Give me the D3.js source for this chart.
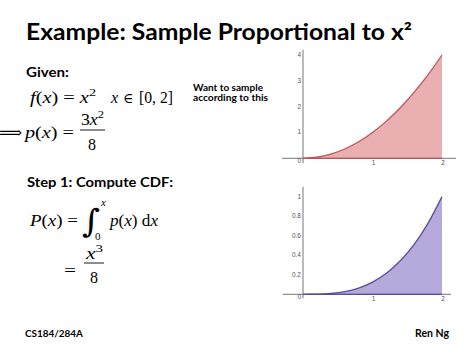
<!DOCTYPE html>
<html><head><meta charset="utf-8">
<script src="https://cdn.jsdelivr.net/npm/d3@7"></script>
<style>
html,body{margin:0;padding:0;background:#fff;}
svg{display:block;}
.sans{font-family:Lato,"Open Sans",sans-serif;font-weight:bold;fill:#000;}
.math{font-family:"Liberation Serif","DejaVu Serif",serif;fill:#000;}
.it{font-style:italic;}
.tick{font-family:"Liberation Sans",Arial,sans-serif;font-size:6.5px;fill:#555;}
</style></head>
<body>
<script>
// Data
const xs = [0, 0.2, 0.4, 0.6, 0.8, 1.0, 1.2, 1.4, 1.6, 1.8, 2.0];
const pdfVals = [0, 0.04, 0.16, 0.36, 0.64, 1.0, 1.44, 1.96, 2.56, 3.24, 4.0];
const cdfVals = [0, 0.001, 0.008, 0.027, 0.064, 0.125, 0.216, 0.343, 0.512, 0.729, 1.0];
const xTicks = [1, 2];
const pdfYTicks = [1, 2, 3, 4];
const cdfYTicks = [0.2, 0.4, 0.6, 0.8, 1];

const W = 474, H = 355;
const svg = d3.select("body").append("svg").attr("width", W).attr("height", H);
svg.append("rect").attr("width", W).attr("height", H).attr("fill", "#fff");

// Title
svg.append("text").attr("class","sans").attr("x",26).attr("y",40)
  .attr("font-size",22).attr("font-weight",900).attr("textLength",386).attr("lengthAdjust","spacingAndGlyphs")
  .text("Example: Sample Proportional to x²");

svg.append("text").attr("class","sans").attr("x",26).attr("y",77).attr("font-size",14)
  .attr("textLength",43).attr("lengthAdjust","spacingAndGlyphs").text("Given:");

function mathText(x, y, size, len, parts, anchor) {
  const t = svg.append("text").attr("class","math").attr("x",x).attr("y",y).attr("font-size",size);
  if (len) t.attr("textLength",len).attr("lengthAdjust","spacingAndGlyphs");
  if (anchor) t.attr("text-anchor",anchor);
  parts.forEach(p => {
    const s = t.append("tspan").text(p.t);
    if (p.i) s.attr("font-style","italic");
    if (p.sup) s.attr("font-size",size*0.7).attr("dy",-size*0.42);
  });
  return t;
}

// f(x) = x^2
mathText(30,103,16,66,[{t:"f",i:1},{t:"("},{t:"x",i:1},{t:") = "},{t:"x",i:1},{t:"2",sup:1}]);
mathText(111,103,16,null,[{t:"x",i:1}]);
svg.append("text").attr("font-family","DejaVu Serif,serif").attr("x",123).attr("y",103).attr("font-size",14).text("∈");
svg.append("text").attr("class","math").attr("x",139).attr("y",103).attr("font-size",17)
  .attr("textLength",34).attr("lengthAdjust","spacingAndGlyphs").text("[0, 2]");

svg.append("text").attr("class","sans").attr("x",193).attr("y",91).attr("font-size",9.5)
  .attr("textLength",70).attr("lengthAdjust","spacingAndGlyphs").text("Want to sample");
svg.append("text").attr("class","sans").attr("x",193).attr("y",101).attr("font-size",9.5)
  .attr("textLength",75).attr("lengthAdjust","spacingAndGlyphs").text("according to this");

// => p(x) = 3x^2/8
svg.append("text").attr("font-family","DejaVu Serif,serif").attr("x",-1).attr("y",138).attr("font-size",16)
  .attr("textLength",23).attr("lengthAdjust","spacingAndGlyphs").text("⟹");
mathText(25,138,16,49,[{t:"p",i:1},{t:"("},{t:"x",i:1},{t:") ="}]);
mathText(81,125,16,23,[{t:"3"},{t:"x",i:1},{t:"2",sup:1}]);
svg.append("line").attr("x1",80).attr("x2",105).attr("y1",130).attr("y2",130).attr("stroke","#000").attr("stroke-width",0.9);
svg.append("text").attr("class","math").attr("x",92).attr("y",150).attr("font-size",16).attr("text-anchor","middle").text("8");

// Step 1
svg.append("text").attr("class","sans").attr("x",27).attr("y",187).attr("font-size",14)
  .attr("textLength",146).attr("lengthAdjust","spacingAndGlyphs").text("Step 1: Compute CDF:");

mathText(30,226,16,48,[{t:"P",i:1},{t:"("},{t:"x",i:1},{t:") ="}]);
svg.append("text").attr("font-family","DejaVu Serif,serif").attr("x",82).attr("y",232).attr("font-size",32)
  .attr("font-style","italic").attr("textLength",18).attr("lengthAdjust","spacingAndGlyphs").text("∫");
svg.append("text").attr("class","math").attr("font-style","italic").attr("x",101).attr("y",206).attr("font-size",11).text("x");
svg.append("text").attr("class","math").attr("x",95).attr("y",240).attr("font-size",11).text("0");
mathText(110,226,16,48,[{t:"p",i:1},{t:"("},{t:"x",i:1},{t:") d"},{t:"x",i:1}]);

svg.append("text").attr("class","math").attr("x",64).attr("y",276).attr("font-size",16)
  .attr("textLength",12).attr("lengthAdjust","spacingAndGlyphs").text("=");
mathText(86,259,16,17,[{t:"x",i:1},{t:"3",sup:1}]);
svg.append("line").attr("x1",84).attr("x2",104).attr("y1",263).attr("y2",263).attr("stroke","#000").attr("stroke-width",0.9);
svg.append("text").attr("class","math").attr("x",94).attr("y",283).attr("font-size",16).attr("text-anchor","middle").text("8");

// Footer
svg.append("text").attr("class","sans").attr("x",25).attr("y",337).attr("font-size",10)
  .attr("textLength",58).attr("lengthAdjust","spacingAndGlyphs").text("CS184/284A");
svg.append("text").attr("class","sans").attr("x",449).attr("y",337).attr("font-size",10.5).attr("text-anchor","end")
  .text("Ren Ng");

// Charts
function chart(vals, yTop, yBottomPx, yTopPx, yTicks, fill, stroke, xAxisMin, xAxisMax, yAxisMin, yAxisMax) {
  const x = d3.scaleLinear().domain([0, 2]).range([303, 442]);
  const y = d3.scaleLinear().domain([0, yTop]).range([yBottomPx, yTopPx]);
  const g = svg.append("g");
  const pts = xs.map((v, i) => [v, vals[i]]);
  g.append("path").datum(pts)
    .attr("d", d3.area().x(d => x(d[0])).y0(y(0)).y1(d => y(d[1])).curve(d3.curveMonotoneX))
    .attr("fill", fill);
  g.append("line").attr("x1", x(xAxisMin)).attr("x2", x(xAxisMax)).attr("y1", y(0)).attr("y2", y(0))
    .attr("stroke", "#777").attr("stroke-width", 1);
  g.append("line").attr("x1", x(0)).attr("x2", x(0)).attr("y1", y(yAxisMin)).attr("y2", y(yAxisMax))
    .attr("stroke", "#777").attr("stroke-width", 1);
  g.append("path").datum(pts)
    .attr("d", d3.line().x(d => x(d[0])).y(d => y(d[1])).curve(d3.curveMonotoneX))
    .attr("fill", "none").attr("stroke", stroke).attr("stroke-width", 1.3);
  g.append("line").attr("x1", x(0)).attr("x2", x(2)).attr("y1", y(0)).attr("y2", y(0))
    .attr("stroke", stroke).attr("stroke-width", 1.3);
  g.selectAll(".yt").data(yTicks).enter().append("text").attr("class", "tick")
    .attr("x", x(0) - 2).attr("y", d => y(d) + 2).attr("text-anchor", "end").text(d => d3.format("")(d));
  g.selectAll(".xt").data(xTicks).enter().append("text").attr("class", "tick")
    .attr("x", d => x(d) + 1).attr("y", y(0) + 7).attr("text-anchor", "middle").text(d => d);
  g.append("text").attr("class", "tick").attr("x", x(0) - 2).attr("y", y(0) + 5).attr("text-anchor", "end").text("0");
}
chart(pdfVals, 4, 158.3, 55, pdfYTicks, "#e9afb1", "#c2525a", -0.3, 2.2, -0.19, 4.2);
chart(cdfVals, 1, 294.3, 196.6, cdfYTicks, "#b6a9dc", "#5b4b9f", -0.29, 2.13, -0.04, 1.1);
</script>
</body></html>
